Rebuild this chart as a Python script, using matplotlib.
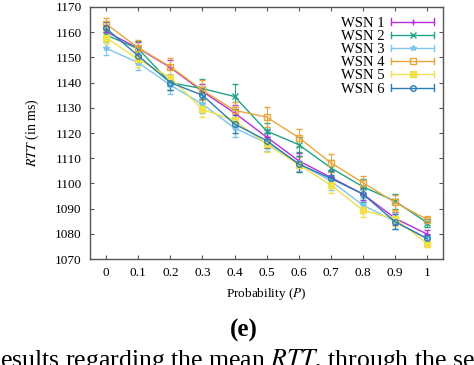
import matplotlib
matplotlib.use("Agg")
import matplotlib.pyplot as plt
from matplotlib.lines import Line2D
from matplotlib.legend_handler import HandlerBase

plt.rcParams['font.family'] = ['Liberation Serif', 'DejaVu Serif']
plt.rcParams['mathtext.fontset'] = 'stix'

prob = [0, 0.1, 0.2, 0.3, 0.4, 0.5, 0.6, 0.7, 0.8, 0.9, 1]
x_ticks = [0, 0.1, 0.2, 0.3, 0.4, 0.5, 0.6, 0.7, 0.8, 0.9, 1]
x_ticklabels = ['0', '0.1', '0.2', '0.3', '0.4', '0.5', '0.6', '0.7', '0.8', '0.9', '1']
y_ticks = [1070, 1080, 1090, 1100, 1110, 1120, 1130, 1140, 1150, 1160, 1170]

labels = ['WSN 1', 'WSN 2', 'WSN 3', 'WSN 4', 'WSN 5', 'WSN 6']

wsn1 = [1160.2, 1153.6, 1146.0, 1136.5, 1128.0, 1118.4, 1109.0, 1102.4, 1095.8, 1086.2, 1079.9]
wsn2 = [1158.9, 1153.4, 1140.0, 1137.6, 1134.5, 1120.8, 1115.4, 1106.2, 1098.7, 1093.0, 1084.4]
wsn3 = [1153.6, 1147.9, 1139.0, 1131.5, 1122.0, 1116.0, 1108.0, 1101.0, 1091.4, 1085.0, 1078.0]
wsn4 = [1163.3, 1153.8, 1146.3, 1137.0, 1129.0, 1126.3, 1118.2, 1108.2, 1100.3, 1092.5, 1085.7]
wsn5 = [1157.8, 1149.2, 1142.0, 1129.4, 1125.0, 1115.6, 1107.5, 1099.4, 1089.4, 1086.0, 1076.2]
wsn6 = [1161.5, 1150.6, 1140.0, 1135.0, 1123.6, 1117.0, 1107.7, 1102.0, 1095.8, 1084.8, 1078.2]

err1 = [2.5, 2.5, 3.0, 3.0, 3.0, 3.0, 3.0, 3.0, 2.5, 2.5, 1.5]
err2 = [2.5, 3.0, 3.0, 4.0, 5.0, 3.0, 3.0, 3.0, 3.0, 3.0, 1.5]
err3 = [2.5, 3.0, 3.5, 3.5, 3.5, 3.0, 3.0, 3.5, 3.0, 3.0, 1.5]
err4 = [2.5, 3.0, 3.5, 4.0, 3.5, 4.0, 3.5, 3.5, 2.5, 3.0, 1.5]
err5 = [2.5, 3.0, 3.5, 3.0, 3.0, 3.0, 3.0, 3.0, 2.5, 3.0, 1.5]
err6 = [2.5, 3.0, 3.0, 3.0, 3.5, 3.0, 3.0, 3.0, 3.0, 3.0, 1.5]

series = [wsn1, wsn2, wsn3, wsn4, wsn5, wsn6]
errors = [err1, err2, err3, err4, err5, err6]
colors = ['#b62fd6', '#1fa585', '#7cc5ec', '#eaa53c', '#f0e04a', '#2a7db5']
markers = ['+', 'x', '*', 's', 's', 'o']
facecolors = [None, None, None, 'none', None, 'none']


class GnuplotHandler(HandlerBase):
    # gnuplot style key: line with caps on both ends and the point in the middle
    def create_artists(self, legend, orig_handle, xdescent, ydescent,
                       width, height, fontsize, trans):
        c = orig_handle.get_color()
        y = height / 2 - ydescent
        x0, x1 = -xdescent, width - xdescent
        cap = 0.3 * height
        arts = [Line2D([x0, x1], [y, y], color=c, lw=1),
                Line2D([x0, x0], [y - cap, y + cap], color=c, lw=1),
                Line2D([x1, x1], [y - cap, y + cap], color=c, lw=1),
                Line2D([(x0 + x1) / 2], [y], color=c, marker=orig_handle.get_marker(),
                       markersize=orig_handle.get_markersize(),
                       markerfacecolor=orig_handle.get_markerfacecolor(),
                       markeredgewidth=1, ls='none')]
        for a in arts:
            a.set_transform(trans)
        return arts


fig = plt.figure(figsize=(4.74, 3.65), dpi=100)
ax = fig.add_axes([0.19, 0.29, 0.745, 0.691])

handles = []
for vals, err, col, mk, fc, lab in zip(series, errors, colors, markers, facecolors, labels):
    mfc = col if fc is None else fc
    ax.errorbar(prob, vals, yerr=err, color=col, marker=mk, markersize=4,
                markerfacecolor=mfc, markeredgewidth=1, lw=1, elinewidth=0.8,
                capsize=2, capthick=0.8)
    handles.append(Line2D([], [], color=col, marker=mk, markersize=4,
                          markerfacecolor=mfc, label=lab))

ax.set_xlim(-0.05, 1.05)
ax.set_ylim(1070, 1170)
ax.set_xticks(x_ticks)
ax.set_xticklabels(x_ticklabels)
ax.set_yticks(y_ticks)
ax.tick_params(direction='in', top=True, right=True, labelsize=9.5, length=3,
               color='#555555', pad=6)
for s in ax.spines.values():
    s.set_color('#555555')
    s.set_linewidth(1)

ax.set_ylabel(r'$RTT$ (in ms)', fontsize=10, labelpad=10)
ax.set_xlabel(r'Probability ($P$)', fontsize=9.5, labelpad=5)

ax.legend(handles=handles, handler_map={Line2D: GnuplotHandler()},
          loc='upper right', frameon=False, markerfirst=False, fontsize=10.5,
          handlelength=2.9, labelspacing=0.0, handletextpad=0.5,
          borderaxespad=0.25)

fig.text(0.515, 0.095, '(e)', ha='center', va='center', fontsize=18, fontweight='bold')
fig.text(-0.035, -0.006, r'Results regarding the mean $RTT$, through the second',
         ha='left', va='baseline', fontsize=18.5)

fig.savefig('out.png', dpi=100)
